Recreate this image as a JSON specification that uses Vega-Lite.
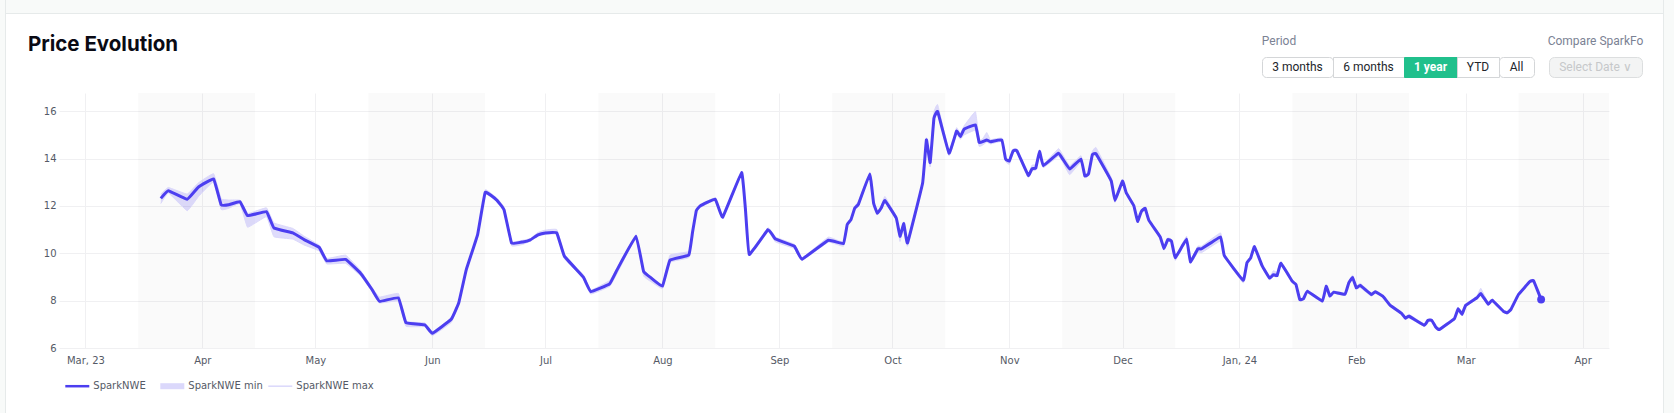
{
  "$schema": "https://vega.github.io/schema/vega-lite/v6.json",
  "description": "SparkNWE price evolution with min and max band, one year view.",
  "background": "#ffffff",
  "padding": 0,
  "config": {
    "view": {"stroke": null},
    "concat": {"spacing": 0},
    "text": {"font": "Roboto", "fontSize": 12}
  },
  "data": {"values": [{"label": ""}]},
  "datasets": {
    "prices": [
      {"Date":"2023-03-21","SparkNWE":12.32,"SparkNWE min":12.1,"SparkNWE max":12.5},
      {"Date":"2023-03-23","SparkNWE":12.64,"SparkNWE min":12.55,"SparkNWE max":12.78},
      {"Date":"2023-03-28","SparkNWE":12.28,"SparkNWE min":11.8,"SparkNWE max":12.5},
      {"Date":"2023-03-31","SparkNWE":12.8,"SparkNWE min":12.4,"SparkNWE max":12.98},
      {"Date":"2023-04-04","SparkNWE":13.14,"SparkNWE min":13.02,"SparkNWE max":13.36},
      {"Date":"2023-04-06","SparkNWE":12.05,"SparkNWE min":11.85,"SparkNWE max":12.3},
      {"Date":"2023-04-08","SparkNWE":12.05,"SparkNWE min":11.9,"SparkNWE max":12.25},
      {"Date":"2023-04-11","SparkNWE":12.18,"SparkNWE min":12.1,"SparkNWE max":12.24},
      {"Date":"2023-04-13","SparkNWE":11.59,"SparkNWE min":11.1,"SparkNWE max":11.68},
      {"Date":"2023-04-18","SparkNWE":11.76,"SparkNWE min":11.55,"SparkNWE max":11.92},
      {"Date":"2023-04-20","SparkNWE":11.07,"SparkNWE min":10.7,"SparkNWE max":11.28},
      {"Date":"2023-04-25","SparkNWE":10.86,"SparkNWE min":10.6,"SparkNWE max":11.05},
      {"Date":"2023-04-28","SparkNWE":10.58,"SparkNWE min":10.35,"SparkNWE max":10.72},
      {"Date":"2023-05-02","SparkNWE":10.25,"SparkNWE min":10.1,"SparkNWE max":10.34},
      {"Date":"2023-05-04","SparkNWE":9.68,"SparkNWE min":9.55,"SparkNWE max":9.78},
      {"Date":"2023-05-09","SparkNWE":9.74,"SparkNWE min":9.58,"SparkNWE max":9.92},
      {"Date":"2023-05-13","SparkNWE":9.15,"SparkNWE min":9.05,"SparkNWE max":9.27},
      {"Date":"2023-05-16","SparkNWE":8.47,"SparkNWE min":8.38,"SparkNWE max":8.55},
      {"Date":"2023-05-18","SparkNWE":7.97,"SparkNWE min":7.9,"SparkNWE max":8.15},
      {"Date":"2023-05-23","SparkNWE":8.12,"SparkNWE min":7.98,"SparkNWE max":8.3},
      {"Date":"2023-05-25","SparkNWE":7.07,"SparkNWE min":6.92,"SparkNWE max":7.13},
      {"Date":"2023-05-30","SparkNWE":6.98,"SparkNWE min":6.9,"SparkNWE max":7.06},
      {"Date":"2023-06-01","SparkNWE":6.62,"SparkNWE min":6.52,"SparkNWE max":6.68},
      {"Date":"2023-06-06","SparkNWE":7.21,"SparkNWE min":7.08,"SparkNWE max":7.28},
      {"Date":"2023-06-08","SparkNWE":7.91,"SparkNWE min":7.86,"SparkNWE max":7.96},
      {"Date":"2023-06-10","SparkNWE":9.31,"SparkNWE min":9.26,"SparkNWE max":9.36},
      {"Date":"2023-06-13","SparkNWE":10.79,"SparkNWE min":10.72,"SparkNWE max":10.85},
      {"Date":"2023-06-15","SparkNWE":12.57,"SparkNWE min":12.5,"SparkNWE max":12.68},
      {"Date":"2023-06-18","SparkNWE":12.26,"SparkNWE min":12.2,"SparkNWE max":12.34},
      {"Date":"2023-06-20","SparkNWE":11.84,"SparkNWE min":11.76,"SparkNWE max":11.95},
      {"Date":"2023-06-22","SparkNWE":10.44,"SparkNWE min":10.32,"SparkNWE max":10.5},
      {"Date":"2023-06-25","SparkNWE":10.48,"SparkNWE min":10.38,"SparkNWE max":10.55},
      {"Date":"2023-06-27","SparkNWE":10.57,"SparkNWE min":10.52,"SparkNWE max":10.62},
      {"Date":"2023-06-29","SparkNWE":10.78,"SparkNWE min":10.72,"SparkNWE max":10.88},
      {"Date":"2023-07-01","SparkNWE":10.86,"SparkNWE min":10.8,"SparkNWE max":10.98},
      {"Date":"2023-07-04","SparkNWE":10.86,"SparkNWE min":10.8,"SparkNWE max":11.0},
      {"Date":"2023-07-06","SparkNWE":9.88,"SparkNWE min":9.78,"SparkNWE max":9.95},
      {"Date":"2023-07-11","SparkNWE":9.0,"SparkNWE min":8.93,"SparkNWE max":9.1},
      {"Date":"2023-07-13","SparkNWE":8.38,"SparkNWE min":8.28,"SparkNWE max":8.44},
      {"Date":"2023-07-18","SparkNWE":8.71,"SparkNWE min":8.6,"SparkNWE max":8.85},
      {"Date":"2023-07-20","SparkNWE":9.31,"SparkNWE min":9.15,"SparkNWE max":9.38},
      {"Date":"2023-07-25","SparkNWE":10.72,"SparkNWE min":10.66,"SparkNWE max":10.78},
      {"Date":"2023-07-27","SparkNWE":9.24,"SparkNWE min":9.05,"SparkNWE max":9.3},
      {"Date":"2023-07-29","SparkNWE":8.96,"SparkNWE min":8.8,"SparkNWE max":9.02},
      {"Date":"2023-08-01","SparkNWE":8.61,"SparkNWE min":8.52,"SparkNWE max":8.66},
      {"Date":"2023-08-03","SparkNWE":9.71,"SparkNWE min":9.62,"SparkNWE max":9.92},
      {"Date":"2023-08-08","SparkNWE":9.93,"SparkNWE min":9.82,"SparkNWE max":10.08},
      {"Date":"2023-08-09","SparkNWE":10.9,"SparkNWE min":10.84,"SparkNWE max":10.96},
      {"Date":"2023-08-10","SparkNWE":11.8,"SparkNWE min":11.75,"SparkNWE max":11.86},
      {"Date":"2023-08-11","SparkNWE":12.0,"SparkNWE min":11.93,"SparkNWE max":12.06},
      {"Date":"2023-08-15","SparkNWE":12.29,"SparkNWE min":12.24,"SparkNWE max":12.34},
      {"Date":"2023-08-17","SparkNWE":11.53,"SparkNWE min":11.48,"SparkNWE max":11.58},
      {"Date":"2023-08-22","SparkNWE":13.41,"SparkNWE min":13.35,"SparkNWE max":13.47},
      {"Date":"2023-08-23","SparkNWE":11.9,"SparkNWE min":11.82,"SparkNWE max":11.98},
      {"Date":"2023-08-24","SparkNWE":9.95,"SparkNWE min":9.9,"SparkNWE max":10.02},
      {"Date":"2023-08-29","SparkNWE":11.0,"SparkNWE min":10.92,"SparkNWE max":11.08},
      {"Date":"2023-08-31","SparkNWE":10.6,"SparkNWE min":10.48,"SparkNWE max":10.68},
      {"Date":"2023-09-05","SparkNWE":10.3,"SparkNWE min":10.2,"SparkNWE max":10.38},
      {"Date":"2023-09-07","SparkNWE":9.75,"SparkNWE min":9.7,"SparkNWE max":9.8},
      {"Date":"2023-09-14","SparkNWE":10.55,"SparkNWE min":10.47,"SparkNWE max":10.68},
      {"Date":"2023-09-18","SparkNWE":10.41,"SparkNWE min":10.3,"SparkNWE max":10.46},
      {"Date":"2023-09-19","SparkNWE":11.21,"SparkNWE min":11.16,"SparkNWE max":11.26},
      {"Date":"2023-09-20","SparkNWE":11.42,"SparkNWE min":11.37,"SparkNWE max":11.47},
      {"Date":"2023-09-21","SparkNWE":11.91,"SparkNWE min":11.85,"SparkNWE max":12.0},
      {"Date":"2023-09-22","SparkNWE":12.08,"SparkNWE min":12.0,"SparkNWE max":12.2},
      {"Date":"2023-09-25","SparkNWE":13.35,"SparkNWE min":13.3,"SparkNWE max":13.4},
      {"Date":"2023-09-26","SparkNWE":12.12,"SparkNWE min":12.06,"SparkNWE max":12.18},
      {"Date":"2023-09-27","SparkNWE":11.69,"SparkNWE min":11.62,"SparkNWE max":11.74},
      {"Date":"2023-09-28","SparkNWE":11.91,"SparkNWE min":11.85,"SparkNWE max":12.0},
      {"Date":"2023-09-29","SparkNWE":12.23,"SparkNWE min":12.17,"SparkNWE max":12.4},
      {"Date":"2023-10-02","SparkNWE":11.49,"SparkNWE min":11.43,"SparkNWE max":11.56},
      {"Date":"2023-10-03","SparkNWE":10.72,"SparkNWE min":10.5,"SparkNWE max":10.8},
      {"Date":"2023-10-04","SparkNWE":11.25,"SparkNWE min":11.15,"SparkNWE max":11.33},
      {"Date":"2023-10-05","SparkNWE":10.44,"SparkNWE min":10.3,"SparkNWE max":10.5},
      {"Date":"2023-10-09","SparkNWE":12.97,"SparkNWE min":12.92,"SparkNWE max":13.02},
      {"Date":"2023-10-10","SparkNWE":14.79,"SparkNWE min":14.7,"SparkNWE max":14.88},
      {"Date":"2023-10-11","SparkNWE":13.83,"SparkNWE min":13.65,"SparkNWE max":13.9},
      {"Date":"2023-10-12","SparkNWE":15.7,"SparkNWE min":15.6,"SparkNWE max":15.95},
      {"Date":"2023-10-13","SparkNWE":15.98,"SparkNWE min":15.88,"SparkNWE max":16.27},
      {"Date":"2023-10-16","SparkNWE":14.23,"SparkNWE min":14.12,"SparkNWE max":14.3},
      {"Date":"2023-10-18","SparkNWE":15.16,"SparkNWE min":15.05,"SparkNWE max":15.3},
      {"Date":"2023-10-19","SparkNWE":14.93,"SparkNWE min":14.82,"SparkNWE max":15.05},
      {"Date":"2023-10-20","SparkNWE":15.24,"SparkNWE min":15.0,"SparkNWE max":15.38},
      {"Date":"2023-10-23","SparkNWE":15.42,"SparkNWE min":15.2,"SparkNWE max":15.98},
      {"Date":"2023-10-24","SparkNWE":14.68,"SparkNWE min":14.52,"SparkNWE max":14.78},
      {"Date":"2023-10-25","SparkNWE":14.72,"SparkNWE min":14.58,"SparkNWE max":14.85},
      {"Date":"2023-10-26","SparkNWE":14.79,"SparkNWE min":14.7,"SparkNWE max":15.1},
      {"Date":"2023-10-27","SparkNWE":14.71,"SparkNWE min":14.62,"SparkNWE max":14.8},
      {"Date":"2023-10-30","SparkNWE":14.79,"SparkNWE min":14.72,"SparkNWE max":14.86},
      {"Date":"2023-10-31","SparkNWE":13.98,"SparkNWE min":13.88,"SparkNWE max":14.04},
      {"Date":"2023-11-01","SparkNWE":13.9,"SparkNWE min":13.76,"SparkNWE max":13.96},
      {"Date":"2023-11-02","SparkNWE":14.33,"SparkNWE min":14.27,"SparkNWE max":14.4},
      {"Date":"2023-11-03","SparkNWE":14.33,"SparkNWE min":14.27,"SparkNWE max":14.4},
      {"Date":"2023-11-06","SparkNWE":13.29,"SparkNWE min":13.2,"SparkNWE max":13.36},
      {"Date":"2023-11-07","SparkNWE":13.57,"SparkNWE min":13.48,"SparkNWE max":13.72},
      {"Date":"2023-11-08","SparkNWE":13.6,"SparkNWE min":13.52,"SparkNWE max":13.75},
      {"Date":"2023-11-09","SparkNWE":14.3,"SparkNWE min":14.24,"SparkNWE max":14.38},
      {"Date":"2023-11-10","SparkNWE":13.7,"SparkNWE min":13.62,"SparkNWE max":13.76},
      {"Date":"2023-11-14","SparkNWE":14.23,"SparkNWE min":14.1,"SparkNWE max":14.42},
      {"Date":"2023-11-15","SparkNWE":14.02,"SparkNWE min":13.9,"SparkNWE max":14.2},
      {"Date":"2023-11-17","SparkNWE":13.56,"SparkNWE min":13.32,"SparkNWE max":13.7},
      {"Date":"2023-11-20","SparkNWE":13.98,"SparkNWE min":13.86,"SparkNWE max":14.12},
      {"Date":"2023-11-21","SparkNWE":13.27,"SparkNWE min":13.2,"SparkNWE max":13.33},
      {"Date":"2023-11-22","SparkNWE":13.36,"SparkNWE min":13.28,"SparkNWE max":13.42},
      {"Date":"2023-11-23","SparkNWE":14.16,"SparkNWE min":14.1,"SparkNWE max":14.3},
      {"Date":"2023-11-24","SparkNWE":14.2,"SparkNWE min":14.1,"SparkNWE max":14.46},
      {"Date":"2023-11-28","SparkNWE":13.06,"SparkNWE min":13.0,"SparkNWE max":13.2},
      {"Date":"2023-11-29","SparkNWE":12.23,"SparkNWE min":12.15,"SparkNWE max":12.28},
      {"Date":"2023-12-01","SparkNWE":13.05,"SparkNWE min":13.0,"SparkNWE max":13.1},
      {"Date":"2023-12-02","SparkNWE":12.55,"SparkNWE min":12.5,"SparkNWE max":12.6},
      {"Date":"2023-12-04","SparkNWE":12.01,"SparkNWE min":11.96,"SparkNWE max":12.06},
      {"Date":"2023-12-05","SparkNWE":11.35,"SparkNWE min":11.28,"SparkNWE max":11.4},
      {"Date":"2023-12-06","SparkNWE":11.77,"SparkNWE min":11.72,"SparkNWE max":11.82},
      {"Date":"2023-12-07","SparkNWE":11.9,"SparkNWE min":11.85,"SparkNWE max":11.95},
      {"Date":"2023-12-08","SparkNWE":11.39,"SparkNWE min":11.34,"SparkNWE max":11.44},
      {"Date":"2023-12-11","SparkNWE":10.69,"SparkNWE min":10.64,"SparkNWE max":10.74},
      {"Date":"2023-12-12","SparkNWE":10.2,"SparkNWE min":10.13,"SparkNWE max":10.25},
      {"Date":"2023-12-13","SparkNWE":10.58,"SparkNWE min":10.52,"SparkNWE max":10.65},
      {"Date":"2023-12-14","SparkNWE":10.51,"SparkNWE min":10.44,"SparkNWE max":10.58},
      {"Date":"2023-12-15","SparkNWE":9.81,"SparkNWE min":9.7,"SparkNWE max":9.87},
      {"Date":"2023-12-18","SparkNWE":10.6,"SparkNWE min":10.54,"SparkNWE max":10.72},
      {"Date":"2023-12-19","SparkNWE":9.64,"SparkNWE min":9.56,"SparkNWE max":9.7},
      {"Date":"2023-12-21","SparkNWE":10.19,"SparkNWE min":10.05,"SparkNWE max":10.3},
      {"Date":"2023-12-22","SparkNWE":10.19,"SparkNWE min":10.03,"SparkNWE max":10.3},
      {"Date":"2023-12-27","SparkNWE":10.69,"SparkNWE min":10.52,"SparkNWE max":10.86},
      {"Date":"2023-12-28","SparkNWE":9.9,"SparkNWE min":9.84,"SparkNWE max":9.96},
      {"Date":"2024-01-02","SparkNWE":8.86,"SparkNWE min":8.75,"SparkNWE max":8.92},
      {"Date":"2024-01-03","SparkNWE":9.6,"SparkNWE min":9.55,"SparkNWE max":9.65},
      {"Date":"2024-01-04","SparkNWE":9.81,"SparkNWE min":9.76,"SparkNWE max":9.86},
      {"Date":"2024-01-05","SparkNWE":10.28,"SparkNWE min":10.22,"SparkNWE max":10.34},
      {"Date":"2024-01-07","SparkNWE":9.48,"SparkNWE min":9.42,"SparkNWE max":9.54},
      {"Date":"2024-01-09","SparkNWE":8.95,"SparkNWE min":8.88,"SparkNWE max":9.02},
      {"Date":"2024-01-10","SparkNWE":9.1,"SparkNWE min":9.03,"SparkNWE max":9.26},
      {"Date":"2024-01-11","SparkNWE":9.06,"SparkNWE min":9.0,"SparkNWE max":9.2},
      {"Date":"2024-01-12","SparkNWE":9.58,"SparkNWE min":9.52,"SparkNWE max":9.64},
      {"Date":"2024-01-15","SparkNWE":8.82,"SparkNWE min":8.77,"SparkNWE max":8.87},
      {"Date":"2024-01-16","SparkNWE":8.68,"SparkNWE min":8.63,"SparkNWE max":8.73},
      {"Date":"2024-01-17","SparkNWE":8.05,"SparkNWE min":8.0,"SparkNWE max":8.1},
      {"Date":"2024-01-18","SparkNWE":8.08,"SparkNWE min":8.03,"SparkNWE max":8.13},
      {"Date":"2024-01-19","SparkNWE":8.4,"SparkNWE min":8.35,"SparkNWE max":8.45},
      {"Date":"2024-01-23","SparkNWE":7.98,"SparkNWE min":7.93,"SparkNWE max":8.03},
      {"Date":"2024-01-24","SparkNWE":8.61,"SparkNWE min":8.56,"SparkNWE max":8.68},
      {"Date":"2024-01-25","SparkNWE":8.19,"SparkNWE min":8.14,"SparkNWE max":8.24},
      {"Date":"2024-01-26","SparkNWE":8.36,"SparkNWE min":8.31,"SparkNWE max":8.41},
      {"Date":"2024-01-29","SparkNWE":8.27,"SparkNWE min":8.22,"SparkNWE max":8.32},
      {"Date":"2024-01-30","SparkNWE":8.75,"SparkNWE min":8.7,"SparkNWE max":8.8},
      {"Date":"2024-01-31","SparkNWE":8.98,"SparkNWE min":8.92,"SparkNWE max":9.08},
      {"Date":"2024-02-01","SparkNWE":8.54,"SparkNWE min":8.47,"SparkNWE max":8.6},
      {"Date":"2024-02-02","SparkNWE":8.64,"SparkNWE min":8.56,"SparkNWE max":8.74},
      {"Date":"2024-02-05","SparkNWE":8.26,"SparkNWE min":8.18,"SparkNWE max":8.32},
      {"Date":"2024-02-06","SparkNWE":8.38,"SparkNWE min":8.33,"SparkNWE max":8.43},
      {"Date":"2024-02-08","SparkNWE":8.19,"SparkNWE min":8.14,"SparkNWE max":8.24},
      {"Date":"2024-02-10","SparkNWE":7.8,"SparkNWE min":7.75,"SparkNWE max":7.85},
      {"Date":"2024-02-13","SparkNWE":7.46,"SparkNWE min":7.41,"SparkNWE max":7.51},
      {"Date":"2024-02-14","SparkNWE":7.26,"SparkNWE min":7.21,"SparkNWE max":7.31},
      {"Date":"2024-02-15","SparkNWE":7.34,"SparkNWE min":7.27,"SparkNWE max":7.42},
      {"Date":"2024-02-19","SparkNWE":6.96,"SparkNWE min":6.91,"SparkNWE max":7.01},
      {"Date":"2024-02-20","SparkNWE":7.17,"SparkNWE min":7.12,"SparkNWE max":7.22},
      {"Date":"2024-02-21","SparkNWE":7.17,"SparkNWE min":7.12,"SparkNWE max":7.22},
      {"Date":"2024-02-22","SparkNWE":6.9,"SparkNWE min":6.85,"SparkNWE max":6.95},
      {"Date":"2024-02-23","SparkNWE":6.78,"SparkNWE min":6.73,"SparkNWE max":6.83},
      {"Date":"2024-02-27","SparkNWE":7.24,"SparkNWE min":7.19,"SparkNWE max":7.29},
      {"Date":"2024-02-28","SparkNWE":7.66,"SparkNWE min":7.6,"SparkNWE max":7.72},
      {"Date":"2024-02-29","SparkNWE":7.42,"SparkNWE min":7.37,"SparkNWE max":7.47},
      {"Date":"2024-03-01","SparkNWE":7.8,"SparkNWE min":7.75,"SparkNWE max":7.85},
      {"Date":"2024-03-04","SparkNWE":8.12,"SparkNWE min":8.07,"SparkNWE max":8.2},
      {"Date":"2024-03-05","SparkNWE":8.3,"SparkNWE min":8.22,"SparkNWE max":8.52},
      {"Date":"2024-03-07","SparkNWE":7.85,"SparkNWE min":7.8,"SparkNWE max":7.9},
      {"Date":"2024-03-08","SparkNWE":8.02,"SparkNWE min":7.97,"SparkNWE max":8.07},
      {"Date":"2024-03-11","SparkNWE":7.55,"SparkNWE min":7.5,"SparkNWE max":7.6},
      {"Date":"2024-03-12","SparkNWE":7.49,"SparkNWE min":7.44,"SparkNWE max":7.54},
      {"Date":"2024-03-13","SparkNWE":7.63,"SparkNWE min":7.58,"SparkNWE max":7.68},
      {"Date":"2024-03-15","SparkNWE":8.26,"SparkNWE min":8.21,"SparkNWE max":8.31},
      {"Date":"2024-03-18","SparkNWE":8.8,"SparkNWE min":8.75,"SparkNWE max":8.85},
      {"Date":"2024-03-19","SparkNWE":8.84,"SparkNWE min":8.79,"SparkNWE max":8.89},
      {"Date":"2024-03-21","SparkNWE":8.05,"SparkNWE min":8.0,"SparkNWE max":8.1}
    ],
    "shaded": [
      {"from":"2023-03-15","to":"2023-04-15"},
      {"from":"2023-05-15","to":"2023-06-15"},
      {"from":"2023-07-15","to":"2023-08-15"},
      {"from":"2023-09-15","to":"2023-10-15"},
      {"from":"2023-11-15","to":"2023-12-15"},
      {"from":"2024-01-15","to":"2024-02-15"},
      {"from":"2024-03-15","to":"2024-04-08"}
    ],
    "latest": [
      {"Date":"2024-03-21","SparkNWE":8.05}
    ]
  },
  "spacing": 0,
  "hconcat": [
    {"width": 5, "height": 413, "view": {"fill": "#f8faf9"}, "mark": {"type": "rect", "opacity": 0}},
    {"width": 1, "height": 413, "view": {"fill": "#e6eaea"}, "mark": {"type": "rect", "opacity": 0}},
    {
      "spacing": 0,
      "vconcat": [
        {"width": 1657, "height": 13, "view": {"fill": "#f8faf9"}, "mark": {"type": "rect", "opacity": 0}},
        {"width": 1657, "height": 1, "view": {"fill": "#e6eaea"}, "mark": {"type": "rect", "opacity": 0}},
        {
          "spacing": 15,
          "vconcat": [
            {
              "spacing": 0,
              "hconcat": [
                {"width": 21, "height": 62, "mark": {"type": "rect", "opacity": 0}},
                {
                  "width": 150, "height": 62,
                  "data": {"values": [{"label": "Price Evolution"}]},
                  "mark": {"type": "text", "font": "Inter", "fontSize": 20.5, "fontWeight": 700, "color": "#0a0a14"},
                  "encoding": {"text": {"field": "label"}}
                },
                {"width": 1082, "height": 62, "mark": {"type": "rect", "opacity": 0}},
                {
                  "spacing": 0,
                  "vconcat": [
                    {
                      "width": 34, "height": 42,
                      "data": {"values": [{"label": "Period"}]},
                      "mark": {"type": "text", "color": "#7b8294", "dy": 6},
                      "encoding": {"text": {"field": "label"}}
                    },
                    {
                      "bounds": "flush",
                      "spacing": 0,
                      "hconcat": [
                        {
                          "width": 71, "height": 20,
                          "view": {"fill": "#ffffff", "stroke": "#d4d6d8", "cornerRadius": 4},
                          "data": {"values": [{"label": "3 months"}]},
                          "mark": {"type": "text", "color": "#22252b"},
                          "encoding": {"text": {"field": "label"}}
                        },
                        {
                          "width": 71, "height": 20,
                          "view": {"fill": "#ffffff", "stroke": "#d4d6d8"},
                          "data": {"values": [{"label": "6 months"}]},
                          "mark": {"type": "text", "color": "#22252b"},
                          "encoding": {"text": {"field": "label"}}
                        },
                        {
                          "width": 53, "height": 20,
                          "view": {"fill": "#20c08c", "stroke": "#20c08c"},
                          "data": {"values": [{"label": "1 year"}]},
                          "mark": {"type": "text", "color": "#ffffff", "fontWeight": 700},
                          "encoding": {"text": {"field": "label"}}
                        },
                        {
                          "width": 42, "height": 20,
                          "view": {"fill": "#ffffff", "stroke": "#d4d6d8"},
                          "data": {"values": [{"label": "YTD"}]},
                          "mark": {"type": "text", "color": "#22252b"},
                          "encoding": {"text": {"field": "label"}}
                        },
                        {
                          "width": 35, "height": 20,
                          "view": {"fill": "#ffffff", "stroke": "#d4d6d8", "cornerRadius": 4},
                          "data": {"values": [{"label": "All"}]},
                          "mark": {"type": "text", "color": "#22252b"},
                          "encoding": {"text": {"field": "label"}}
                        }
                      ]
                    }
                  ]
                },
                {"width": 12, "height": 62, "mark": {"type": "rect", "opacity": 0}},
                {
                  "spacing": 0,
                  "vconcat": [
                    {
                      "width": 93, "height": 42,
                      "data": {"values": [{"label": "Compare SparkFo"}]},
                      "mark": {"type": "text", "color": "#7b8294", "dy": 6},
                      "encoding": {"text": {"field": "label"}}
                    },
                    {
                      "width": 93, "height": 20,
                      "view": {"fill": "#f3f4f4", "stroke": "#dcdedf", "cornerRadius": 5},
                      "data": {"values": [{"label": "Select Date  ∨"}]},
                      "mark": {"type": "text", "color": "#c6c8ca", "fontSize": 12},
                      "encoding": {"text": {"field": "label"}}
                    }
                  ]
                }
              ]
            },
            {
              "bounds": "flush",
              "spacing": 0,
              "hconcat": [
                {"width": 53, "height": 1, "mark": {"type": "rect", "opacity": 0}},
                {
                  "width": 1550,
                  "height": 255,
                  "layer": [
                    {
                      "data": {"name": "shaded"},
                      "mark": {"type": "rect", "color": "#000000", "opacity": 0.02},
                      "encoding": {
                        "x": {
                          "field": "from",
                          "type": "temporal",
                          "scale": {"type": "utc", "domain": ["2023-02-22", "2024-04-08"]},
                          "axis": {
                            "title": null,
                            "domain": false,
                            "ticks": false,
                            "grid": true,
                            "gridColor": "#f0f0f2",
                            "tickCount": {"interval": "month", "step": 1},
                            "labelFont": "DejaVu Sans",
                            "labelFontSize": 10,
                            "labelColor": "#555a66",
                            "labelPadding": 7,
                            "labelExpr": "utcmonth(datum.value) == 0 || (utcyear(datum.value) == 2023 && utcmonth(datum.value) == 2) ? utcFormat(datum.value, '%b, %y') : utcFormat(datum.value, '%b')"
                          }
                        },
                        "x2": {"field": "to"}
                      }
                    },
                    {
                      "data": {"name": "prices"},
                      "mark": {"type": "area", "interpolate": "cardinal", "tension": 0.75, "color": "#4c3ef0", "opacity": 0.18},
                      "encoding": {
                        "x": {"field": "Date", "type": "temporal"},
                        "y": {
                          "field": "SparkNWE min",
                          "type": "quantitative",
                          "scale": {"domain": [6, 16.77], "nice": false},
                          "axis": {
                            "title": null,
                            "domain": false,
                            "ticks": false,
                            "grid": true,
                            "gridColor": "#f0f0f2",
                            "values": [6, 8, 10, 12, 14, 16],
                            "labelFont": "DejaVu Sans",
                            "labelFontSize": 10,
                            "labelColor": "#555a66",
                            "labelPadding": 3
                          }
                        },
                        "y2": {"field": "SparkNWE max"}
                      }
                    },
                    {
                      "data": {"name": "prices"},
                      "transform": [
                        {"fold": ["SparkNWE min", "SparkNWE max", "SparkNWE"], "as": ["Series", "Price"]}
                      ],
                      "mark": {"type": "line", "interpolate": "cardinal", "tension": 0.75},
                      "encoding": {
                        "x": {"field": "Date", "type": "temporal"},
                        "y": {"field": "Price", "type": "quantitative"},
                        "color": {
                          "field": "Series",
                          "type": "nominal",
                          "scale": {
                            "domain": ["SparkNWE", "SparkNWE min", "SparkNWE max"],
                            "range": ["#4c3ef0", "#dbd8fb", "#dbd8fb"]
                          },
                          "legend": {
                            "title": null,
                            "orient": "none",
                            "legendX": 72.3,
                            "legendY": 381.2,
                            "direction": "horizontal",
                            "gridAlign": "none",
                            "symbolType": "stroke",
                            "symbolSize": 576,
                            "labelFont": "DejaVu Sans",
                            "labelFontSize": 10,
                            "labelColor": "#555a66",
                            "labelOffset": 11,
                            "labelLimit": 200,
                            "columnPadding": 2,
                            "encode": {
                              "symbols": {
                                "update": {
                                  "strokeWidth": {"signal": "datum.value == 'SparkNWE' ? 2.5 : datum.value == 'SparkNWE min' ? 6 : 1.5"}
                                }
                              }
                            }
                          }
                        },
                        "strokeWidth": {
                          "condition": {"test": "datum.Series == 'SparkNWE'", "value": 3},
                          "value": 1
                        }
                      }
                    },
                    {
                      "data": {"name": "latest"},
                      "mark": {"type": "point", "filled": true, "size": 62, "color": "#4c3ef0", "opacity": 1},
                      "encoding": {
                        "x": {"field": "Date", "type": "temporal"},
                        "y": {"field": "SparkNWE", "type": "quantitative"}
                      }
                    }
                  ]
                }
              ]
            }
          ]
        }
      ]
    },
    {"width": 1, "height": 413, "view": {"fill": "#e6eaea"}, "mark": {"type": "rect", "opacity": 0}},
    {"width": 10, "height": 413, "view": {"fill": "#f8faf9"}, "mark": {"type": "rect", "opacity": 0}}
  ]
}
